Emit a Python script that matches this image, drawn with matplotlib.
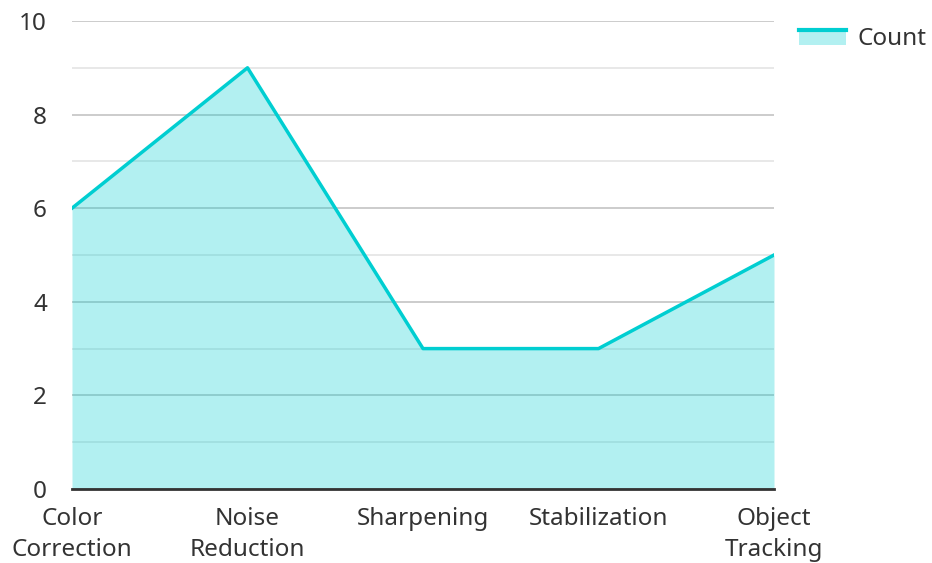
import matplotlib
matplotlib.use('Agg')
import matplotlib.pyplot as plt
from matplotlib.patches import Rectangle
from matplotlib.lines import Line2D
from matplotlib.legend_handler import HandlerBase

plt.rcParams['font.family'] = ['Noto Sans', 'DejaVu Sans']

# ====== data ======
categories = ['Color\nCorrection', 'Noise\nReduction', 'Sharpening', 'Stabilization', 'Object\nTracking']
counts = [6, 9, 3, 3, 5]
series_name = 'Count'

LINE_COLOR = '#00CED1'
FILL_ALPHA = 0.3
TEXT_COLOR = '#333333'


class AreaHandler(HandlerBase):
    """legend handle: filled box with line along the top"""
    def create_artists(self, legend, orig_handle, xdescent, ydescent,
                       width, height, fontsize, trans):
        top = height * 0.9
        rect = Rectangle((-xdescent, -ydescent), width, top, facecolor=LINE_COLOR,
                         alpha=FILL_ALPHA, edgecolor='none', transform=trans)
        line = Line2D([-xdescent, -xdescent + width], [top - ydescent, top - ydescent],
                      color=LINE_COLOR, linewidth=3, transform=trans)
        return [rect, line]


fig = plt.figure(figsize=(9.32, 5.63), dpi=100)
ax = fig.add_axes([72 / 932, 1 - 489 / 563, (774 - 72) / 932, (489 - 21) / 563])

x = list(range(len(categories)))
ax.fill_between(x, counts, 0, color=LINE_COLOR, alpha=FILL_ALPHA, linewidth=0, zorder=2)
ax.plot(x, counts, color=LINE_COLOR, linewidth=2.5, zorder=3)

ax.set_xlim(0, len(categories) - 1)
ax.set_ylim(0, 10)
ax.set_yticks(range(0, 11, 2))
ax.set_yticks(range(1, 10, 2), minor=True)
ax.set_xticks(x)
ax.set_xticklabels(categories)

ax.set_axisbelow(True)
ax.grid(axis='y', which='major', color='#C4C4C4', linewidth=1.2)
ax.grid(axis='y', which='minor', color='#E4E4E4', linewidth=1.2)

for s in ['left', 'right', 'top']:
    ax.spines[s].set_visible(False)
ax.spines['bottom'].set_color('#333333')
ax.spines['bottom'].set_linewidth(2)
ax.spines['bottom'].set_zorder(4)

ax.tick_params(axis='both', which='both', length=0, labelsize=17.5, labelcolor=TEXT_COLOR)
ax.tick_params(axis='y', pad=18)
ax.tick_params(axis='x', pad=13)
for lbl in ax.get_xticklabels():
    lbl.set_linespacing(1.4)

handle = Rectangle((0, 0), 1, 1)
fig.legend([handle], [series_name], handler_map={Rectangle: AreaHandler()},
           loc='center left', bbox_to_anchor=(799 / 932, 1 - 39 / 563),
           frameon=False, fontsize=17.5, labelcolor=TEXT_COLOR,
           handlelength=1.95, handleheight=0.7, handletextpad=0.45,
           borderpad=0, borderaxespad=0)

fig.savefig('out.png', dpi=100)
